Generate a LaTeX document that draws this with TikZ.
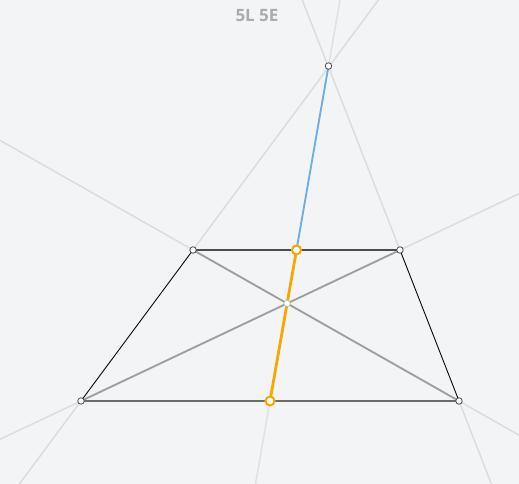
\documentclass[tikz,border=0pt]{standalone}
\usepackage{fontspec}
\setsansfont{Open Sans}
\usepackage{xcolor}
\definecolor{bgc}{HTML}{F3F4F6}
\definecolor{faint}{HTML}{DCDCDC}
\definecolor{faintblue}{HTML}{DCE2EA}
\definecolor{diag}{HTML}{9E9E9E}
\definecolor{midline}{HTML}{6A6A6A}
\definecolor{skyblue}{HTML}{6AAEE8}
\definecolor{amber}{HTML}{F7A800}
\definecolor{titlec}{HTML}{ABABAB}

\begin{document}
\begin{tikzpicture}[x=1pt, y=-1pt,
        ext/.style={faint, line width=1.5pt},
        pt/.style={circle, draw=black!70, fill=white, line width=0.8pt, inner sep=0pt, minimum size=6.5pt},
        hot/.style={circle, draw=amber, fill=white, line width=2pt, inner sep=0pt, minimum size=9pt}]
        \fill[bgc] (0, 0) rectangle (519, 484);
        \useasboundingbox (0, 0) rectangle (519, 484);
        % trapezoid, apex, crossing
        \coordinate (A) at (81, 401);
        \coordinate (B) at (459, 401);
        \coordinate (C) at (400, 250);
        \coordinate (D) at (193, 250);
        \coordinate (P) at (328.5, 66);
        \coordinate (O) at (287.1, 303.4);
        \coordinate (M) at (296.5, 250);
        \coordinate (N) at (270, 401);
        % free ends on the border
        \coordinate (ad0) at (19.4, 484);
        \coordinate (ad1) at (378.4, 0);
        \coordinate (bc0) at (491.4, 484);
        \coordinate (bc1) at (302.3, 0);
        \coordinate (ac0) at (0, 439.3);
        \coordinate (ac1) at (519, 193.7);
        \coordinate (bd0) at (0, 140.4);
        \coordinate (bd1) at (519, 435.1);
        \coordinate (pn0) at (340, 0);
        \coordinate (pn1) at (255.5, 484);
        \draw[ext] (ad0) -- (ad1);
        \draw[ext] (bc0) -- (bc1);
        \draw[ext] (ac0) -- (ac1);
        \draw[ext] (bd0) -- (bd1);
        \draw[ext, faintblue] (pn0) -- (pn1);
        \draw[diag, line width=1.8pt] (A) -- (C);
        \draw[diag, line width=1.8pt] (B) -- (D);
        \draw[midline, line width=2pt] (A) -- (B);
        \draw[black!70, line width=1.6pt] (D) -- (C);
        \draw[black, line width=0.8pt] (A) -- (D);
        \draw[black, line width=0.8pt] (B) -- (C);
        \draw[skyblue, line width=1.8pt] (P) -- (M);
        \draw[amber, line width=2.8pt] (M) -- (N);
        \node[pt] at (A) {};
        \node[pt] at (B) {};
        \node[pt] at (C) {};
        \node[pt] at (D) {};
        \node[pt] at (P) {};
        \node[pt, draw=black!25] at (O) {};
        \node[hot] at (M) {};
        \node[hot] at (N) {};
        \node[titlec, font=\sffamily\bfseries\fontsize{17}{19}\selectfont] (title) at (257, 16) {5L 5E};
    \end{tikzpicture}
\end{document}
